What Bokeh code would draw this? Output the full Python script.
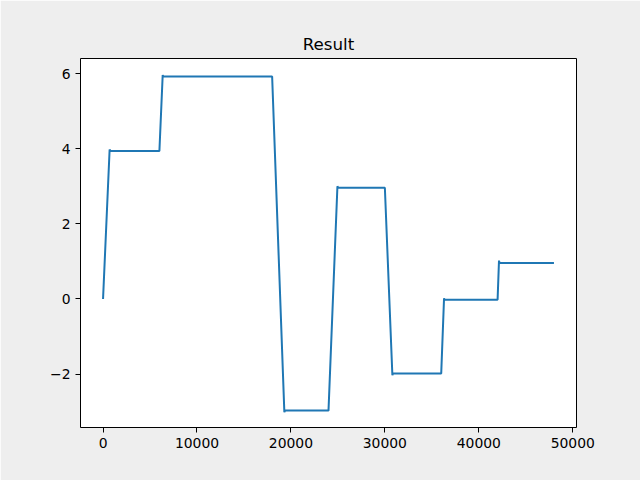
from bokeh.plotting import figure
from bokeh.models import Range1d, FixedTicker, BasicTickFormatter
from bokeh.embed import file_html
from bokeh.resources import INLINE

# Data
time = [0, 700, 760, 6000, 6350, 6420, 18000, 19300, 19380, 24000, 24950, 25020,
        30000, 30800, 30860, 36000, 36300, 36360, 42000, 42150, 42210, 48000]
result = [0.0, 3.98, 3.94, 3.94, 5.96, 5.92, 5.92, -3.01, -2.97, -2.97, 3.0, 2.96,
          2.96, -2.03, -1.98, -1.98, 0.02, -0.02, -0.02, 1.02, 0.96, 0.96]
x_ticks = [0, 10000, 20000, 30000, 40000, 50000]
y_ticks = [-2, 0, 2, 4, 6]
title_text = "Result"

p = figure(width=640, height=480, output_backend="svg", toolbar_location=None,
           x_range=Range1d(-2400, 50400), y_range=Range1d(-3.42, 6.40),
           title=title_text, min_border_left=80, min_border_right=64,
           min_border_top=58, min_border_bottom=53)

p.line(time, result, line_color="#1f77b4", line_width=2)

p.background_fill_color = "white"
p.border_fill_color = "#eeeeee"
p.outline_line_color = "black"
p.outline_line_width = 1
p.xgrid.visible = False
p.ygrid.visible = False

p.title.align = "center"
p.title.text_font = "DejaVu Sans"
p.title.text_font_size = "16.7px"
p.title.text_font_style = "normal"
p.title.text_color = "black"

for ax in (p.xaxis[0], p.yaxis[0]):
    ax.axis_line_color = None
    ax.major_tick_line_color = "black"
    ax.major_tick_out = 5
    ax.major_tick_in = 0
    ax.minor_tick_line_color = None
    ax.major_label_text_font = "DejaVu Sans"
    ax.major_label_text_font_size = "13.9px"
    ax.major_label_text_color = "black"

p.xaxis[0].ticker = FixedTicker(ticks=x_ticks)
p.xaxis[0].formatter = BasicTickFormatter(use_scientific=False)
p.yaxis[0].ticker = FixedTicker(ticks=y_ticks)
p.yaxis[0].major_label_overrides = {v: (str(v).replace("-", "\u2212")) for v in y_ticks}

open("out.html", "w").write(file_html(p, INLINE))
